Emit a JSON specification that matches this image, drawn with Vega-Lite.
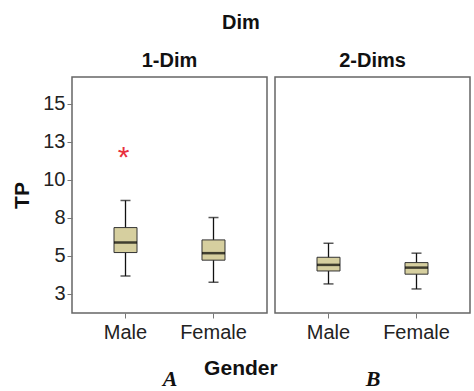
{
  "$schema": "https://vega.github.io/schema/vega-lite/v6.json",
  "padding": {"left": 11, "top": 13, "right": 5, "bottom": 0},
  "background": "white",
  "datasets": {
    "box": [
      {"Dim": "1-Dim", "Gender": "Male", "lower": 3.68, "q1": 5.22, "median": 5.88, "q3": 6.86, "upper": 8.64},
      {"Dim": "1-Dim", "Gender": "Female", "lower": 3.27, "q1": 4.72, "median": 5.18, "q3": 6.05, "upper": 7.52},
      {"Dim": "2-Dims", "Gender": "Male", "lower": 3.16, "q1": 4.01, "median": 4.41, "q3": 4.91, "upper": 5.83},
      {"Dim": "2-Dims", "Gender": "Female", "lower": 2.83, "q1": 3.8, "median": 4.23, "q3": 4.56, "upper": 5.18}
    ],
    "out": [
      {"Dim": "1-Dim", "Gender": "Male", "TP": 11.8}
    ]
  },
  "title": {"text": "Gender", "orient": "bottom", "anchor": "middle", "offset": -32, "fontSize": 21, "fontWeight": "bold", "font": "Liberation Sans", "color": "#111"},
  "vconcat": [
    {
      "title": {"text": "Dim", "anchor": "middle", "offset": 17, "fontSize": 20, "fontWeight": "bold", "font": "Liberation Sans", "color": "#111"},
      "spacing": 6,
      "hconcat": [
        {
          "title": {"text": "1-Dim", "offset": 6},
          "width": 195,
          "height": 236,
          "layer": [
            {
              "data": {"name": "box"},
              "transform": [{"filter": "datum.Dim === '1-Dim'"}],
              "mark": {"type": "rule", "color": "#111", "strokeWidth": 1.3},
              "encoding": {
                "x": {"field": "Gender", "type": "nominal", "sort": ["Male", "Female"], "scale": {"paddingInner": 0.5, "paddingOuter": 0.358}, "axis": {"title": "A", "labelAngle": 0}},
                "y": {"field": "lower", "type": "quantitative", "scale": {"domain": [1.25, 16.75], "nice": false, "zero": false}, "axis": {"title": "TP", "values": [2.5, 5, 7.5, 10, 12.5, 15], "format": ".0f"}},
                "y2": {"field": "upper"}
              }
            },
            {
              "data": {"name": "box"},
              "transform": [{"filter": "datum.Dim === '1-Dim'"}],
              "mark": {"type": "tick", "color": "#111", "size": 10, "thickness": 1.5},
              "encoding": {
                "x": {"field": "Gender", "type": "nominal", "sort": ["Male", "Female"]},
                "y": {"field": "lower", "type": "quantitative"}
              }
            },
            {
              "data": {"name": "box"},
              "transform": [{"filter": "datum.Dim === '1-Dim'"}],
              "mark": {"type": "tick", "color": "#111", "size": 10, "thickness": 1.5},
              "encoding": {
                "x": {"field": "Gender", "type": "nominal", "sort": ["Male", "Female"]},
                "y": {"field": "upper", "type": "quantitative"}
              }
            },
            {
              "data": {"name": "box"},
              "transform": [{"filter": "datum.Dim === '1-Dim'"}],
              "mark": {"type": "bar", "size": 23, "fill": "#D6CF9F", "stroke": "#333", "strokeWidth": 1},
              "encoding": {
                "x": {"field": "Gender", "type": "nominal", "sort": ["Male", "Female"]},
                "y": {"field": "q1", "type": "quantitative"},
                "y2": {"field": "q3"}
              }
            },
            {
              "data": {"name": "box"},
              "transform": [{"filter": "datum.Dim === '1-Dim'"}],
              "mark": {"type": "tick", "color": "#000", "size": 23, "thickness": 2.5},
              "encoding": {
                "x": {"field": "Gender", "type": "nominal", "sort": ["Male", "Female"]},
                "y": {"field": "median", "type": "quantitative"}
              }
            },
            {
              "data": {"name": "out"},
              "mark": {"type": "text", "text": "*", "color": "#E8303E", "fontSize": 30, "font": "Liberation Sans", "baseline": "middle", "dy": 6, "dx": -2},
              "encoding": {
                "x": {"field": "Gender", "type": "nominal", "sort": ["Male", "Female"]},
                "y": {"field": "TP", "type": "quantitative"}
              }
            }
          ]
        },
        {
          "title": {"text": "2-Dims", "offset": 6},
          "width": 195,
          "height": 236,
          "layer": [
            {
              "data": {"name": "box"},
              "transform": [{"filter": "datum.Dim === '2-Dims'"}],
              "mark": {"type": "rule", "color": "#111", "strokeWidth": 1.3},
              "encoding": {
                "x": {"field": "Gender", "type": "nominal", "sort": ["Male", "Female"], "scale": {"paddingInner": 0.5, "paddingOuter": 0.358}, "axis": {"title": "B", "labelAngle": 0}},
                "y": {"field": "lower", "type": "quantitative", "scale": {"domain": [1.25, 16.75], "nice": false, "zero": false}, "axis": null},
                "y2": {"field": "upper"}
              }
            },
            {
              "data": {"name": "box"},
              "transform": [{"filter": "datum.Dim === '2-Dims'"}],
              "mark": {"type": "tick", "color": "#111", "size": 10, "thickness": 1.5},
              "encoding": {
                "x": {"field": "Gender", "type": "nominal", "sort": ["Male", "Female"]},
                "y": {"field": "lower", "type": "quantitative"}
              }
            },
            {
              "data": {"name": "box"},
              "transform": [{"filter": "datum.Dim === '2-Dims'"}],
              "mark": {"type": "tick", "color": "#111", "size": 10, "thickness": 1.5},
              "encoding": {
                "x": {"field": "Gender", "type": "nominal", "sort": ["Male", "Female"]},
                "y": {"field": "upper", "type": "quantitative"}
              }
            },
            {
              "data": {"name": "box"},
              "transform": [{"filter": "datum.Dim === '2-Dims'"}],
              "mark": {"type": "bar", "size": 23, "fill": "#D6CF9F", "stroke": "#333", "strokeWidth": 1},
              "encoding": {
                "x": {"field": "Gender", "type": "nominal", "sort": ["Male", "Female"]},
                "y": {"field": "q1", "type": "quantitative"},
                "y2": {"field": "q3"}
              }
            },
            {
              "data": {"name": "box"},
              "transform": [{"filter": "datum.Dim === '2-Dims'"}],
              "mark": {"type": "tick", "color": "#000", "size": 23, "thickness": 2.5},
              "encoding": {
                "x": {"field": "Gender", "type": "nominal", "sort": ["Male", "Female"]},
                "y": {"field": "median", "type": "quantitative"}
              }
            }
          ]
        }
      ]
    }
  ],
  "config": {
    "font": "Liberation Sans",
    "view": {"stroke": "#666", "strokeWidth": 1.5},
    "title": {"fontSize": 20, "fontWeight": "bold", "font": "Liberation Sans", "color": "#111"},
    "axis": {
      "grid": false,
      "domain": false,
      "tickColor": "#777",
      "tickSize": 5,
      "labelFont": "Liberation Sans",
      "labelFontSize": 20,
      "labelColor": "#222",
      "titleFontSize": 21,
      "titleFontWeight": "bold",
      "titleColor": "#111",
      "titleFont": "Liberation Sans"
    },
    "axisX": {
      "labelFontSize": 20,
      "labelPadding": 4,
      "titleFont": "Liberation Serif",
      "titleFontStyle": "italic",
      "titleFontSize": 22,
      "titlePadding": 26
    },
    "axisY": {"titlePadding": 10, "labelPadding": 2}
  }
}
